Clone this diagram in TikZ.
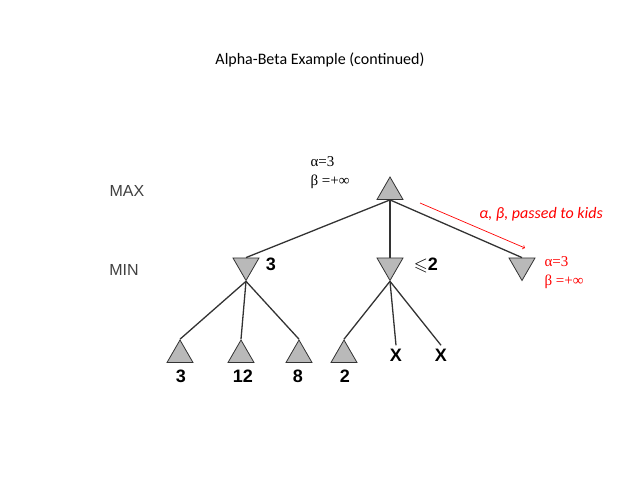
\documentclass[tikz,border=0pt]{standalone}
\usepackage{amssymb}
\usepackage{fontspec}
\setmainfont{Carlito}
\newfontfamily\arialf{Liberation Sans}
\newfontfamily\timesf{Liberation Serif}
\usetikzlibrary{shapes.geometric}
\begin{document}
\begin{tikzpicture}[x=1pt,y=-1pt,
  tri/.style={regular polygon,regular polygon sides=3,minimum size=30pt,inner sep=0pt,fill=gray!55,draw=black!80,line width=0.8pt},
  dtri/.style={tri,shape border rotate=180},
  edge/.style={draw=black!80,line width=1.3pt},
  num/.style={font=\arialf\bfseries\fontsize{18}{18}\selectfont},
  lvl/.style={font=\arialf\fontsize{16}{16}\selectfont,text=black!75},
  ab/.style={font=\timesf\fontsize{15}{19}\selectfont,align=left}]
\useasboundingbox (0,0) rectangle (638,478);
\node (title) at (320,60) {\fontsize{16}{16}\selectfont Alpha-Beta Example (continued)};
\node[lvl] (max) at (127,191) {MAX};
\node[lvl] (min) at (124,270) {MIN};
\node[tri] (r) at (390,192) {};
\node[dtri] (m1) at (246,265.5) {};
\node[dtri] (m2) at (390,265.5) {};
\node[dtri] (m3) at (522,265.5) {};
\node[tri] (l1) at (180,355) {};
\node[tri] (l2) at (241,355) {};
\node[tri] (l3) at (299,355) {};
\node[tri] (l4) at (344,355) {};
\node[num] (x1) at (396,355) {X};
\node[num] (x2) at (441,355) {X};
\draw[edge] (r.south) -- (m1.north);
\draw[edge] (r.south) -- (m2.north);
\draw[edge] (r.south) -- (m3.north);
\draw[edge] (m1.south) -- (l1.north);
\draw[edge] (m1.south) -- (l2.north);
\draw[edge] (m1.south) -- (l3.north);
\draw[edge] (m2.south) -- (l4.north);
\draw[edge] (m2.south) -- (x1.north);
\draw[edge] (m2.south) -- (x2.north);
\node[num] (v1) at (181,376) {3};
\node[num] (v2) at (243,376) {12};
\node[num] (v3) at (298,376) {8};
\node[num] (v4) at (345,376) {2};
\node[num] (vm1) at (271,264) {3};
\node[num] (vm2) at (426,265) {$\leqslant$2};
\node[ab,anchor=west] (abr) at (307,173) {α=3\\β =+∞};
\node[ab,anchor=west,text=red] (abk) at (541,273) {α=3\\β =+∞};
\coordinate (a1) at (420,203);
\coordinate (a2) at (525,248);
\draw[red,->,line width=0.7pt] (a1) -- (a2);
\node[text=red,font=\itshape\fontsize{16}{16}\selectfont] (pk) at (541,214) {α, β, passed to kids};
\end{tikzpicture}
\end{document}
